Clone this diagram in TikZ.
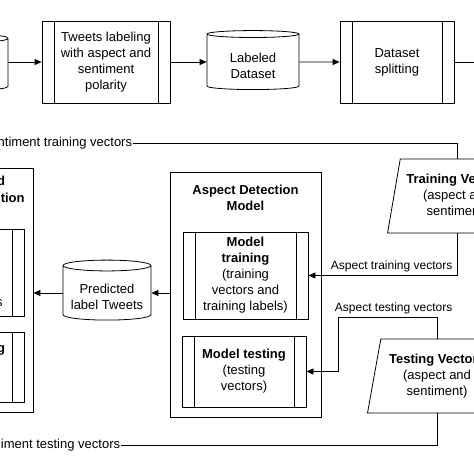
\documentclass[tikz,border=0pt]{standalone}
\usepackage{fontspec}
\setmainfont{Liberation Sans}
\usetikzlibrary{shapes.geometric,arrows.meta,positioning,calc}
\newcommand{\dbtext}[1]{\raisebox{-5pt}[\height][\depth]{\begin{tabular}{@{}c@{}}#1\end{tabular}}}
\tikzset{
	txt/.style={font=\fontsize{13}{16}\selectfont, align=center},
	lbl/.style={font=\fontsize{12}{14}\selectfont},
	bld/.style={font=\bfseries\fontsize{13}{16}\selectfont, align=center},
	box/.style={draw, inner sep=0pt},
	proc/.style={draw, txt, inner sep=0pt, path picture={
		\draw ([xshift=12pt]path picture bounding box.north west)--([xshift=12pt]path picture bounding box.south west)
			([xshift=-12pt]path picture bounding box.north east)--([xshift=-12pt]path picture bounding box.south east);}},
	db/.style={draw, txt, cylinder, shape border rotate=90, aspect=0.15, inner sep=0pt},
	vec/.style={draw, txt, trapezium, trapezium stretches=true, trapezium left angle=75.6,
		trapezium right angle=104.4, minimum width=139pt, minimum height=74pt, inner sep=0pt},
	>={Triangle[length=7pt,width=6pt]}
}
\begin{document}
\begin{tikzpicture}[x=1pt,y=-1pt,line width=0.8pt]
	\clip (0,0) rectangle (474,474);
	\node[db, aspect=0.22, minimum width=36pt, minimum height=54pt] (src) at (-10,64) {\hphantom{Data}};
	\node[proc, minimum width=128pt, minimum height=82pt] (tag) at (106,62) {Tweets labeling\\with aspect and\\sentiment\\polarity};
	\node[db, minimum width=92pt, minimum height=59pt] (ldata) at (253,62) {\dbtext{Labeled\\Dataset}};
	\node[proc, minimum width=114pt, minimum height=82pt] (split) at (397,62) {Dataset\\splitting};
	\coordinate (out) at (480,62);
	\node[vec] (train) at (457,196) {\textbf{Training Vectors}\\(aspect and\\sentiment)};
	\node[vec] (test) at (437,376) {\textbf{Testing Vectors}\\(aspect and\\sentiment)};
	\node[txt, anchor=east, inner sep=0.5pt] (trtxt) at (133,143) {ntiment training vectors};
	\node[txt, anchor=east, inner sep=0.5pt] (tetxt) at (121,445) {iment testing vectors};
	\node[box, minimum width=151pt, minimum height=245pt] (adm) at (245.5,294.5) {};
	\node[bld, anchor=north] (admtitle) at ([yshift=-10pt]adm.north) {Aspect Detection\\Model};
	\node[proc, minimum width=125pt, minimum height=87pt] (mtrain) at (245.5,275.5) {\textbf{Model}\\\textbf{training}\\(training\\vectors and\\training labels)};
	\node[proc, minimum width=124pt, minimum height=71pt] (mtest) at (244,371.5) {\textbf{Model testing}\\(testing\\vectors)};
	\node[db, minimum width=88pt, minimum height=60pt] (pred) at (107,293) {\dbtext{Predicted\\label Tweets}};
	\node[box, minimum width=151pt, minimum height=244pt] (sent) at (-42.5,290) {};
	\node[bld, anchor=east, inner sep=0pt] (senta) at (5.5,181) {d};
	\node[bld, anchor=east, inner sep=0pt] (sentb) at (25,198) {tion};
	\node[proc, minimum width=125pt, minimum height=87pt] (strain) at (-38.5,272.5) {};
	\node[txt, anchor=east, inner sep=0pt] (straint) at (3,303) {s};
	\node[proc, minimum width=125pt, minimum height=70pt] (stest) at (-38.5,367) {};
	\node[bld, anchor=east, inner sep=0pt] (stestt) at (5.5,350) {g};
	\draw[->] (tag.west -| src.east) -- (tag.west);
	\draw[->] (tag) -- (ldata);
	\draw[->] (ldata) -- (split);
	\draw (split) -- (out);
	\draw (trtxt.east) -| (train.north);
	\draw[->] (train.south) |- node[lbl, above, pos=0.72]{Aspect training vectors} (mtrain.east);
	\draw[->] (test.north) -- ++(0,-21) -| node[lbl, above, pos=0.22]{Aspect testing vectors} ([xshift=32pt]mtest.east) -- (mtest.east);
	\draw (test.south) |- (tetxt.east);
	\draw[->] (pred.east -| adm.west) -- (pred.east);
	\draw[->] (pred.west) -- (pred.west -| sent.east);
\end{tikzpicture}
\end{document}
